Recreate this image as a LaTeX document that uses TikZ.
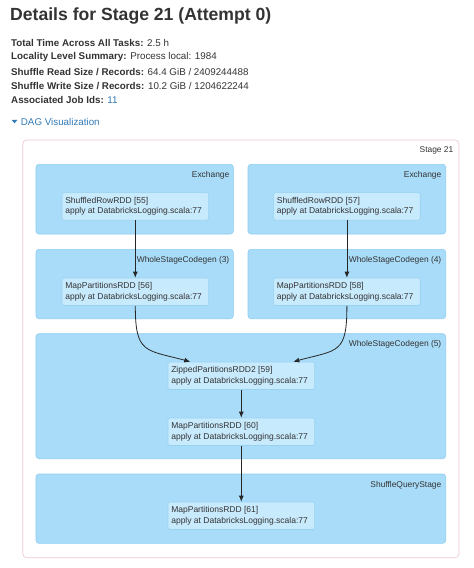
\documentclass[tikz,border=0pt]{standalone}
\usepackage{fontspec}
\setmainfont{Liberation Sans}
\usetikzlibrary{calc,arrows.meta}

\definecolor{textgray}{HTML}{333333}
\definecolor{linkblue}{HTML}{337AB7}
\definecolor{stageline}{HTML}{EDCBD3}
\definecolor{clusterfill}{HTML}{A9DCF9}
\definecolor{clusterline}{HTML}{8ECDF2}
\definecolor{rddfill}{HTML}{C8EAFD}
\definecolor{rddline}{HTML}{98D2F3}

\tikzset{
  cluster/.style={draw=clusterline, fill=clusterfill, rounded corners=3pt, line width=.6pt},
  clusterlabel/.style={anchor=north east, inner sep=0pt, text=textgray, font=\fontsize{8.4}{10}\selectfont},
  rdd/.style={draw=rddline, fill=rddfill, rounded corners=2pt, anchor=north west, line width=.6pt,
    minimum width=146.6pt, minimum height=27.5pt, text width=140pt, inner xsep=3.3pt, inner ysep=3pt,
    align=flush left, text=textgray, font=\fontsize{8.5}{10.6}\selectfont},
  arr/.style={-{Latex[length=6pt,width=5pt]}, line width=.8pt, draw=black!85},
  info/.style={anchor=west, inner sep=0pt, text=textgray, font=\fontsize{9.8}{12}\selectfont}
}

\begin{document}
\begin{tikzpicture}[x=1pt,y=-1pt]
            \useasboundingbox[fill=white] (0,0) rectangle (474,568);

            % header
            \node[info, font=\fontsize{17.6}{21}\bfseries] (title) at (10,15.5) {Details for Stage 21 (Attempt 0)};
            \node[info] (total) at (11,43.3) {\textbf{Total Time Across All Tasks:} 2.5 h};
            \node[info] (local) at (11,57.4) {\textbf{Locality Level Summary:} Process local: 1984};
            \node[info] (read) at (11,71.7) {\textbf{Shuffle Read Size / Records:} 64.4 GiB / 2409244488};
            \node[info] (write) at (11,86) {\textbf{Shuffle Write Size / Records:} 10.2 GiB / 1204622244};
            \node[info] (jobs) at (11,100.2) {\textbf{Associated Job Ids:} \textcolor{linkblue}{11}};
            \fill[linkblue] (11.5,119.8) -- (17.5,119.8) -- (14.5,123.3) -- cycle;
            \node[info, text=linkblue] (dag) at (20.7,121.8) {DAG Visualization};

            % stage
            \draw[stageline, fill=white, rounded corners=4pt, line width=.7pt] (22.7,140) rectangle (459,557.7);
            \node[clusterlabel] (stagelbl) at (453.5,146.5) {Stage 21};

            % clusters
            \draw[cluster] (36,164.3) rectangle (233.3,234);
            \draw[cluster] (248,164.3) rectangle (445.7,234);
            \draw[cluster] (36,249.3) rectangle (233.3,318.7);
            \draw[cluster] (248,249.3) rectangle (445.7,318.7);
            \draw[cluster] (36,333.7) rectangle (445.7,458.7);
            \draw[cluster] (36,474) rectangle (445.7,543.3);
            \node[clusterlabel] (lbl1) at (229.5,171.2) {Exchange};
            \node[clusterlabel] (lbl2) at (441.5,171.2) {Exchange};
            \node[clusterlabel] (lbl3) at (229.5,256.2) {WholeStageCodegen (3)};
            \node[clusterlabel] (lbl4) at (441.5,256.2) {WholeStageCodegen (4)};
            \node[clusterlabel] (lbl5) at (441.5,340.5) {WholeStageCodegen (5)};
            \node[clusterlabel] (lbl6) at (441.5,480.8) {ShuffleQueryStage};

            % rdds
            \node[rdd] (n55) at (61.7,192.3) {ShuffledRowRDD [55]\\apply at DatabricksLogging.scala:77};
            \node[rdd] (n57) at (273.3,192.3) {ShuffledRowRDD [57]\\apply at DatabricksLogging.scala:77};
            \node[rdd] (n56) at (61.7,277.7) {MapPartitionsRDD [56]\\apply at DatabricksLogging.scala:77};
            \node[rdd] (n58) at (273.3,277.7) {MapPartitionsRDD [58]\\apply at DatabricksLogging.scala:77};
            \node[rdd] (n59) at (167.7,361.7) {ZippedPartitionsRDD2 [59]\\apply at DatabricksLogging.scala:77};
            \node[rdd] (n60) at (167.7,417.7) {MapPartitionsRDD [60]\\apply at DatabricksLogging.scala:77};
            \node[rdd] (n61) at (167.7,501.7) {MapPartitionsRDD [61]\\apply at DatabricksLogging.scala:77};

            % edges
            \draw[arr] (n55) -- (n56);
            \draw[arr] (n57) -- (n58);
            \draw[arr] (n56.south) .. controls +(0,48) and +(-45,-12) .. ([xshift=-51pt]n59.north);
            \draw[arr] (n58.south) .. controls +(0,48) and +(45,-12) .. ([xshift=52pt]n59.north);
            \draw[arr] (n59) -- (n60);
            \draw[arr] (n60) -- (n61);
          \end{tikzpicture}
\end{document}
